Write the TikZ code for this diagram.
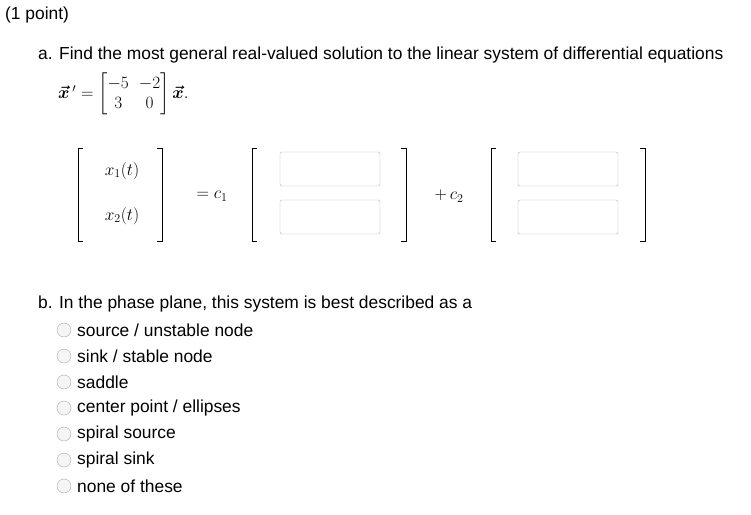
\documentclass[tikz,border=0pt]{standalone}
\usepackage{amsmath,amssymb}
\usepackage{fontspec}
\setmainfont{Liberation Sans}
\begin{document}
\begin{tikzpicture}[x=1pt,y=-1pt,
  txt/.style={anchor=west,inner sep=0pt,font=\fontsize{17.4}{20}\selectfont},
  mth/.style={font=\fontsize{18}{20}\selectfont},
  ansbox/.style={draw=gray!60,rounded corners=2pt,minimum width=100pt,minimum height=34pt,inner sep=0pt},
  radio/.style={circle,draw=gray!70,fill=gray!8,minimum size=14pt,inner sep=0pt},
  brk/.style={line width=0.9pt}]
\useasboundingbox (0,0) rectangle (751,514);
\node[txt] (pt) at (5,15) {(1 point)};
\node[txt] (qa) at (38,55) {a. Find the most general real-valued solution to the linear system of differential equations};
\node[anchor=west,inner sep=0pt,font=\fontsize{17.5}{20}\selectfont] (eq) at (58,94) {$\boldsymbol{\vec{x}}\,'=\begin{bmatrix}-5&-2\\3&0\end{bmatrix}\boldsymbol{\vec{x}}.$};
% left vector
\draw[brk] (83,148) -- (78,148) -- (78,241) -- (83,241);
\draw[brk] (157,148) -- (162,148) -- (162,241) -- (157,241);
\node[mth] (x1) at (122,171) {$x_1(t)$};
\node[mth] (x2) at (122,216) {$x_2(t)$};
\node[mth] (c1) at (212,196) {$=c_1$};
% first vector
\draw[brk] (257,148) -- (252,148) -- (252,241) -- (257,241);
\draw[brk] (401,148) -- (406,148) -- (406,241) -- (401,241);
\node[ansbox] (b11) at (330,169) {};
\node[ansbox] (b12) at (330,217) {};
\node[mth] (c2) at (449,196) {$+\,c_2$};
% second vector
\draw[brk] (496,148) -- (491,148) -- (491,241) -- (496,241);
\draw[brk] (640,148) -- (645,148) -- (645,241) -- (640,241);
\node[ansbox] (b21) at (568,169) {};
\node[ansbox] (b22) at (568,217) {};
\node[txt] (qb) at (38,304) {b. In the phase plane, this system is best described as a};
\foreach \n/\y/\t in {r1/330/{source / unstable node}, r2/356/{sink / stable node}, r3/382/saddle, r4/408/{center point / ellipses}, r5/434/spiral source, r6/460/spiral sink, r7/486/none of these}{
  \node[radio] (\n) at (64,\y) {};
  \node[txt] (\n t) at (77,\y) {\t};
}
\end{tikzpicture}
\end{document}
